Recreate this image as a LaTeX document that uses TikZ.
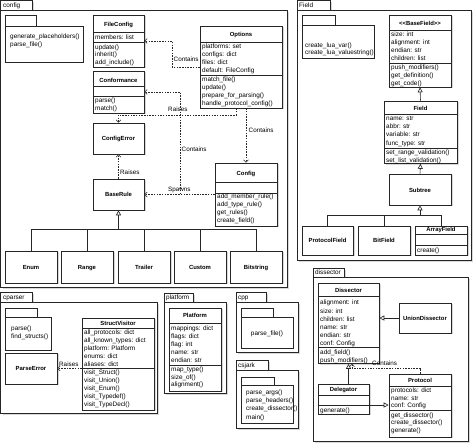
\documentclass[tikz,border=0pt]{standalone}
\usepackage{fontspec}
\setmainfont{Liberation Sans}
\usetikzlibrary{arrows.meta,fit,shadows}

\tikzset{
  ln/.style={line width=0.6pt, draw=black!85},
  pkgbox/.style={draw=black!85, fill=white, line width=0.6pt, inner sep=0pt,
    drop shadow={shadow xshift=2pt, shadow yshift=-2pt, opacity=0.3}},
  modbox/.style={draw=black!85, fill=white, line width=0.6pt, inner sep=0pt},
  cls/.style={draw=black!85, fill=white, line width=0.6pt, inner sep=0pt,
    drop shadow={shadow xshift=1.5pt, shadow yshift=-1.5pt, opacity=0.3}},
  attr/.style={font=\fontsize{6.4}{7.5}\selectfont, inner sep=0pt, anchor=base west},
  ttl/.style={font=\bfseries\fontsize{5.9}{7}\selectfont, inner sep=0pt, anchor=base},
  lbl/.style={font=\fontsize{6.3}{7.5}\selectfont, inner sep=0pt, anchor=base west},
  dep/.style={ln, dash pattern=on 1.5pt off 1.2pt, -{Straight Barb[length=2.5pt,width=5pt]}},
  inh/.style={ln, -{Triangle[open,length=5pt,width=5pt]}},
}

\newcommand\pkgshape[7]{%
  \node[pkgbox, fit={(#2,#3) (#4,#5)}] (#1-tab) {};
  \node[pkgbox, fit={(#2,#5) (#6,#7)}] (#1) {};
}
\newcommand\modshape[7]{%
  \node[modbox, fit={(#2,#3) (#4,#5)}] (#1-tab) {};
  \node[modbox, fit={(#2,#5) (#6,#7)}] (#1) {};
}
\newcommand\txtlines[5]{%
  \foreach \lineitem [count=\i from 0] in {#5} {\node[attr] (#1\i) at (#2,{#3+#4*\i}) {\lineitem};}%
}
\newcommand\hdiv[3]{\draw[ln] (#1,#3) -- (#2,#3);}

\begin{document}
\begin{tikzpicture}[x=1pt,y=-1pt]
\useasboundingbox (0,0) rectangle (474,443);

% ---------------- packages ----------------
\pkgshape{configP}{0.5}{0.5}{32}{10}{287}{287}
\node[attr] (configL) at (3,7.5) {config};
\pkgshape{fieldP}{297}{0.5}{330}{10}{471}{260}
\node[attr] (fieldL) at (299,7.5) {Field};
\pkgshape{cparserP}{0.5}{292}{32}{302}{157}{413}
\node[attr] (cparserL) at (3,299.5) {cparser};
\pkgshape{platformP}{164}{293}{193}{302}{226}{393}
\node[attr] (platformL) at (166,300) {platform};
\pkgshape{cppP}{236}{292}{266}{302}{298}{352}
\node[attr] (cppL) at (238,299.5) {cpp};
\pkgshape{csjarkP}{236}{360}{268}{370}{298}{428}
\node[attr] (csjarkL) at (238,367.5) {csjark};
\pkgshape{dissectorP}{313}{268}{344}{277}{468}{441}
\node[attr] (dissectorL) at (315,275) {dissector};

% ---------------- modules ----------------
\modshape{cfgMod}{5}{15}{36}{26}{83}{62}
\txtlines{cfgMod-l}{10}{39}{7.5}{generate\_placeholders(),parse\_file()}
\modshape{fieldMod}{302}{15}{335}{25}{374}{58}
\txtlines{fieldMod-l}{305}{47.3}{7.4}{create\_lua\_var(),create\_lua\_valuestring()}
\modshape{cpMod}{5}{308}{37}{317}{51}{350}
\txtlines{cpMod-l}{11}{330.5}{8.3}{parse(),find\_structs()}
\modshape{cppMod}{241}{308}{273}{317}{293}{348}
\node[attr, anchor=base] (cppMod-l) at (267,335.5) {parse\_file()};
\modshape{csjMod}{241}{377}{274}{385}{293}{423}
\txtlines{csjMod-l}{246}{394.3}{8.3}{parse\_args(),parse\_headers(),create\_dissector(),main()}

% ---------------- config classes ----------------
\node[cls, fit={(93,15) (144,67)}] (FileConfig) {};
\node[ttl] (FileConfig-t) at (118.5,26.5) {FileConfig};
\hdiv{93}{144}{32} \hdiv{93}{144}{42}
\txtlines{FileConfig-a}{95}{40}{8}{members: list}
\txtlines{FileConfig-m}{95}{49.5}{7.5}{update(),inherit(),add\_include()}

\node[cls, fit={(93,71) (144,113)}] (Conformance) {};
\node[ttl] (Conformance-t) at (118.5,82.3) {Conformance};
\hdiv{93}{144}{86} \hdiv{93}{144}{96}
\txtlines{Conformance-m}{95}{102.5}{7.8}{parse(),match()}

\node[cls, fit={(200,26) (282,108)}] (Options) {};
\node[ttl] (Options-t) at (241,36.3) {Options};
\hdiv{200}{282}{42} \hdiv{200}{282}{75}
\txtlines{Options-a}{202}{49}{8}{platforms: set,configs: dict,files: dict,default: FileConfig}
\txtlines{Options-m}{202}{82}{7.9}{match\_file(),update(),prepare\_for\_parsing(),handle\_protocol\_config()}

\node[cls, fit={(93,123) (144,154)}] (ConfigError) {};
\node[ttl] (ConfigError-t) at (118.5,141) {ConfigError};

\node[cls, fit={(93,179) (144,210)}] (BaseRule) {};
\node[ttl] (BaseRule-t) at (118.5,197) {BaseRule};

\node[cls, fit={(215,163) (277,226)}] (Config) {};
\node[ttl] (Config-t) at (246,175.6) {Config};
\hdiv{215}{277}{182} \hdiv{215}{277}{193}
\txtlines{Config-m}{217}{199}{8}{add\_member\_rule(),add\_type\_rule(),get\_rules(),create\_field()}

\node[cls, fit={(5,251) (57,283)}] (Enum) {};
\node[ttl] (Enum-t) at (31,269.5) {Enum};
\node[cls, fit={(61,251) (113,283)}] (Range) {};
\node[ttl] (Range-t) at (87,269.5) {Range};
\node[cls, fit={(118,251) (170,283)}] (Trailer) {};
\node[ttl] (Trailer-t) at (144,269.5) {Trailer};
\node[cls, fit={(174,251) (226,283)}] (Custom) {};
\node[ttl] (Custom-t) at (200,269.5) {Custom};
\node[cls, fit={(230,251) (282,283)}] (Bitstring) {};
\node[ttl] (Bitstring-t) at (256,269.5) {Bitstring};

% ---------------- Field classes ----------------
\node[cls, fit={(389,15) (451,87)}] (BaseField) {};
\node[ttl] (BaseField-t) at (420,25.6) {<\kern0pt<BaseField>\kern0pt>};
\hdiv{389}{451}{30.5} \hdiv{389}{451}{63}
\txtlines{BaseField-a}{391}{36.5}{8}{size: int,alignment: int,endian: str,children: list}
\txtlines{BaseField-m}{391}{69.2}{8.2}{push\_modifiers(),get\_definition(),get\_code()}

\node[cls, fit={(384,101) (457,163.5)}] (Field) {};
\node[ttl] (Field-t) at (420.5,110.6) {Field};
\hdiv{384}{457}{114.3} \hdiv{384}{457}{148}
\txtlines{Field-a}{386}{120.6}{8.2}{name: str,abbr: str,variable: str,func\_type: str}
\txtlines{Field-m}{386}{155}{7.4}{set\_range\_validation(),set\_list\_validation()}

\node[cls, fit={(389,174) (451,205)}] (Subtree) {};
\node[ttl] (Subtree-t) at (420,192.5) {Subtree};

\node[cls, fit={(302,226) (353,255)}] (ProtocolField) {};
\node[ttl] (ProtocolField-t) at (327.5,242.5) {ProtocolField};
\node[cls, fit={(358,226) (410,255)}] (BitField) {};
\node[ttl] (BitField-t) at (384,242.5) {BitField};
\node[cls, fit={(415,226) (467,255)}] (ArrayField) {};
\node[ttl] (ArrayField-t) at (441,232) {ArrayField};
\hdiv{415}{467}{234.3} \hdiv{415}{467}{245}
\txtlines{ArrayField-m}{417}{253}{8}{create()}

% ---------------- cparser classes ----------------
\node[cls, fit={(5,353) (57,384)}] (ParseError) {};
\node[ttl] (ParseError-t) at (31,370.8) {ParseError};

\node[cls, fit={(82,318) (154,410)}] (StructVisitor) {};
\node[ttl] (StructVisitor-t) at (118,325.6) {StructVisitor};
\hdiv{82}{154}{328} \hdiv{82}{154}{368.5}
\txtlines{StructVisitor-a}{84}{335}{7.9}{all\_protocols: dict,all\_known\_types: dict,platform: Platform,enums: dict,aliases: dict}
\txtlines{StructVisitor-m}{84}{375}{8}{visit\_Struct(),visit\_Union(),visit\_Enum(),visit\_Typedef(),visit\_TypeDecl()}

% ---------------- platform ----------------
\node[cls, fit={(169,308) (221,391)}] (Platform) {};
\node[ttl] (Platform-t) at (195,318) {Platform};
\hdiv{169}{221}{323.3} \hdiv{169}{221}{365}
\txtlines{Platform-a}{171}{330.5}{7.9}{mappings: dict,flags: dict,flag: int,name: str,endian: str}
\txtlines{Platform-m}{171}{371.6}{7.5}{map\_type(),size\_of(),alignment()}

% ---------------- dissector ----------------
\node[cls, fit={(318,283) (379,363.5)}] (Dissector) {};
\node[ttl] (Dissector-t) at (348.5,292.3) {Dissector};
\hdiv{318}{379}{296.3} \hdiv{318}{379}{347.3}
\txtlines{Dissector-a}{320}{305}{8.1}{alignment: int,size: int,children: list,name: str,endian: str,conf: Config}
\txtlines{Dissector-m}{320}{354.6}{7.7}{add\_field(),push\_modifiers()}

\node[cls, fit={(399,303) (451,333)}] (UnionDissector) {};
\node[ttl] (UnionDissector-t) at (425,320.5) {UnionDissector};

\node[cls, fit={(318,384) (369,414)}] (Delegator) {};
\node[ttl] (Delegator-t) at (343.5,392) {Delegator};
\hdiv{318}{369}{395} \hdiv{318}{369}{405}
\txtlines{Delegator-m}{320}{412.3}{8}{generate()}

\node[cls, fit={(389,374) (451,437)}] (Protocol) {};
\node[ttl] (Protocol-t) at (420,382.3) {Protocol};
\hdiv{389}{451}{386} \hdiv{389}{451}{410}
\txtlines{Protocol-a}{391}{392.8}{7.5}{protocols: dict,name: str,conf: Config}
\txtlines{Protocol-m}{391}{417.3}{7.5}{get\_dissector(),create\_dissector(),generate()}

% ---------------- connectors ----------------
\coordinate (cA) at (172,0);
\coordinate (cB) at (180,0);
\coordinate (cC) at (0,115);
\coordinate (oS) at ([xshift=-5pt]Options.south);
\coordinate (bus1) at (118.5,229);
\coordinate (bus2) at (420,215);
\coordinate (dc) at (352,368);
\coordinate (dl) at (0,405);

\draw[dep] (Options.west) -- (Options.west -| cA) |- (FileConfig.east);
\node[lbl] (lblC1) at (173.5,61.5) {Contains};

\draw[dep] (Config.west) -- (BaseRule.east);
\node[lbl] (lblSp) at (168,191.5) {Spawns};

\draw[dep] (Config.west) -- (Config.west -| cB) |- (Conformance.east);
\node[lbl] (lblC2) at (181.5,151.5) {Contains};

\draw[dep] (oS) -- (oS |- cC) -| (ConfigError.north);
\node[lbl] (lblR1) at (168,112) {Raises};

\draw[dep] (Options.south -| Config.north) -- (Config.north);
\node[lbl] (lblC3) at (248.5,133) {Contains};

\draw[dep] (BaseRule.north) -- (ConfigError.south);
\node[lbl] (lblR2) at (120,175) {Raises};

\draw[inh] (bus1) -- (BaseRule.south);
\foreach \n in {Enum,Range,Trailer,Custom,Bitstring} \draw[ln] (\n.north) |- (bus1);

\draw[inh] (Field.north) -- (BaseField.south);
\draw[inh] (Subtree.north) -- (Field.south);
\draw[inh] (bus2) -- (Subtree.south);
\foreach \n in {ProtocolField,BitField,ArrayField} \draw[ln] (\n.north) |- (bus2);

\draw[dep] (StructVisitor.west |- ParseError.east) -- (ParseError.east);
\node[lbl] (lblR3) at (59,366.5) {Raises};

\draw[inh] (UnionDissector.west) -- (UnionDissector.west -| Dissector.east);
\draw[inh] (Delegator.north -| Dissector.south) -- (Dissector.south);
\draw[dep] (Protocol.north) |- (dc) -- (dc |- Dissector.south);
\node[lbl] (lblC4) at (372,365.5) {Contains};
\draw[inh] (Delegator.east |- dl) -- (Protocol.west |- dl);

\end{tikzpicture}
\end{document}
